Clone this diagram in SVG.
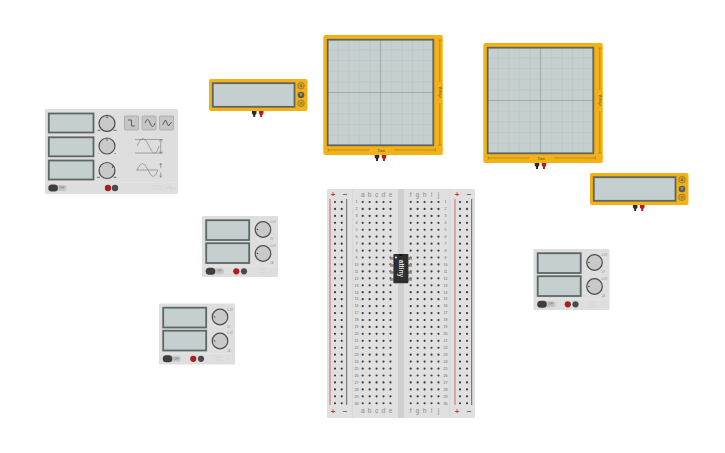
<svg xmlns="http://www.w3.org/2000/svg" width="725" height="453" viewBox="0 0 725 453">
<style>
text{font-family:"Liberation Sans",Arial,sans-serif}
.panel{fill:#dedede}
.lcd{fill:#c5cfd0;stroke:#5c6664;stroke-width:1.8}
.amber{fill:#f3b116}
.knob{fill:#c9c9c9;stroke:#4c4c4c;stroke-width:1.2}
.btn{fill:#c6c6c6;stroke:#a0a0a0;stroke-width:.7}
.wave{fill:none;stroke:#6c6c6c;stroke-width:.55}
.grid{stroke:#b6c0c1;stroke-width:.5}
.axis{stroke:#8f9999;stroke-width:.7}
.tiny{font-size:2.8px;fill:#999}
.rn{font-size:3.6px;fill:#666;text-anchor:middle}
.ln{font-size:6.5px;fill:#8a8a8a;text-anchor:middle}
.holes{stroke:#3a3a3a;stroke-width:2.2;stroke-linecap:round;stroke-dasharray:0 6.94}
</style>
<defs>
<g id="probes">
<path d="M-2.4 0h4.6v2.500l-1.300 1.500v2h-2v-2l-1.300-1.500z" fill="#2b2b2b"/>
<path d="M4.600 0h4.600v2.500l-1.300 1.500v2h-2v-2l-1.300-1.500z" fill="#b01e1e"/>
</g>
<g id="toggle">
<rect x="0" y="-3" width="18.400" height="6" rx="3" fill="#c6c6c6"/>
<rect x="0" y="-3.500" width="9.600" height="7" rx="3.500" fill="#3e3e3e"/>
<text x="11" y="1" class="tiny" style="font-size:2.600px;fill:#777">OFF</text>
</g>
<g id="psu">
<rect class="panel" width="76" height="61" rx="1"/>
<rect class="lcd" x="4.200" y="4.200" width="43" height="19.800"/>
<rect class="lcd" x="4.200" y="27.200" width="43" height="19.800"/>
<circle class="knob" cx="61" cy="13.500" r="7.800"/>
<circle class="knob" cx="61" cy="37.500" r="7.800"/>
<circle cx="55.500" cy="13.500" r=".7" fill="#333"/>
<circle cx="55.500" cy="37.500" r=".7" fill="#333"/>
<text class="tiny" x="68" y="7">0.4V</text>
<text class="tiny" x="68" y="24">0V</text>
<text class="tiny" x="68" y="30.500">0.4V</text>
<text class="tiny" x="68" y="48">1A</text>
<path d="M1 50H75" stroke="#e8e8e8" stroke-width=".6"/>
<use href="#toggle" x="3.700" y="55.300"/>
<circle cx="34.300" cy="55.300" r="3.100" fill="#a81f1f"/>
<circle cx="42" cy="55.300" r="3.100" fill="#4a4a4a"/>
<path d="M56 53.500h7M56 56.500h7M68 57l2-3" stroke="#cfcfcf" stroke-width=".6" fill="none"/>
</g>
<g id="meter">
<rect class="amber" width="98.500" height="32" rx="2"/>
<rect class="lcd" x="3.800" y="4.200" width="81.700" height="23.600"/>
<circle cx="92" cy="6.700" r="3.300" fill="#d9a21a" stroke="#6a6a50" stroke-width=".6"/>
<circle cx="92" cy="16" r="3.300" fill="#5a5a50"/>
<circle cx="92" cy="24.300" r="3.300" fill="#d9a21a" stroke="#6a6a50" stroke-width=".6"/>
<text x="92" y="8" font-size="3.500" text-anchor="middle" fill="#555">A</text>
<text x="92" y="17.200" font-size="3.500" text-anchor="middle" fill="#eee">V</text>
<text x="92" y="25.600" font-size="3.500" text-anchor="middle" fill="#555">R</text>
<use href="#probes" x="45.300" y="32"/>
</g>
<g id="scope">
<rect class="amber" width="119.500" height="120" rx="2"/>
<rect x="4.400" y="4.700" width="105.600" height="105.600" fill="#c5cfd0"/>
<path class="grid" d="M14.600 4.300v106.400M25.300 4.300v106.400M35.900 4.300v106.400M46.600 4.300v106.400M67.800 4.300v106.400M78.500 4.300v106.400M89.100 4.300v106.400M99.800 4.300v106.400M4 14.900h106.400M4 25.600h106.400M4 36.200h106.400M4 46.900h106.400M4 68.100h106.400M4 78.800h106.400M4 89.400h106.400M4 100.100h106.400"/>
<path class="axis" d="M57.200 4.300v106.400M4 57.500h106.400"/>
<rect x="4.400" y="4.700" width="105.600" height="105.600" fill="none" stroke="#5c6664" stroke-width="1.800"/>
<path d="M5 113.500v3M5 115H46M71 115H112M112 113.500v3M115 5h3M116.500 5V47M116.500 68V110M115 110h3" stroke="#7a6a2a" stroke-width=".5" fill="none"/>
<text x="58" y="116.500" font-size="3.400" text-anchor="middle" fill="#444">Time</text>
<text transform="translate(115.500 57.500) rotate(90)" font-size="3.600" text-anchor="middle" fill="#444">Voltage</text>
<use href="#probes" x="53.800" y="120"/>
</g>
</defs>

<g id="function-generator">
<rect class="panel" x="45" y="109" width="133" height="85" rx="1"/>
<rect class="lcd" x="48.800" y="113.500" width="44.700" height="19"/>
<rect class="lcd" x="48.800" y="137.300" width="44.700" height="19"/>
<rect class="lcd" x="48.800" y="160.500" width="44.700" height="19"/>
<circle class="knob" cx="107" cy="123.300" r="8"/>
<circle class="knob" cx="107" cy="146" r="8"/>
<circle class="knob" cx="107" cy="170.500" r="8"/>
<circle cx="107" cy="117.500" r=".7" fill="#333"/>
<circle cx="107" cy="140" r=".7" fill="#333"/>
<circle cx="112.500" cy="167" r=".7" fill="#333"/>
<path d="M97.500 130.300h3M113.500 130.300h3M97 177.300h3M113.500 177.300h3" stroke="#666" stroke-width="1"/>
<path d="M98 153.500h1M114 153.500h2" stroke="#999" stroke-width=".8"/>
<rect class="btn" x="124.500" y="116" width="14" height="14" rx="1"/>
<rect class="btn" x="142" y="116" width="14" height="14" rx="1"/>
<rect class="btn" x="159.500" y="116" width="14" height="14" rx="1"/>
<path d="M128 120h3.500v6H135" class="wave" style="stroke:#444;stroke-width:.8"/>
<path d="M145 123q2.500-7 5-0t5 0" class="wave" style="stroke:#444;stroke-width:.8"/>
<path d="M162.500 125l3-5 3 6 3-4" class="wave" style="stroke:#444;stroke-width:.8"/>
<path class="wave" d="M135 139.500h28M135 153h28M137 146q6-15 12 0t10 0M160.700 140v13M159.200 141.500l1.500-2 1.500 2M159.200 151.500l1.500 2 1.500-2"/>
<path class="wave" d="M136 170h22M137 170q5.500-13 11 0t10 0M160.700 164v4M160.700 172.500v4.500M159.700 165l1-2 1 2M159.700 175.500l1 2 1-2"/>
<path d="M46 182.700H177" stroke="#e8e8e8" stroke-width=".6"/>
<use href="#toggle" x="48.300" y="188"/>
<circle cx="108" cy="188" r="3.200" fill="#a81f1f"/>
<circle cx="115" cy="188" r="3.200" fill="#4a4a4a"/>
<path d="M152 186h10M152 189h10M165 188h11M168 188l2-3 2 6" stroke="#cfcfcf" stroke-width=".6" fill="none"/>
</g>

<use id="multimeter-1" href="#meter" x="209" y="79"/>
<use id="multimeter-2" href="#meter" x="590" y="173"/>
<use id="oscilloscope-1" href="#scope" x="323.300" y="35"/>
<use id="oscilloscope-2" href="#scope" x="483.300" y="43"/>
<use id="power-supply-1" href="#psu" x="202" y="216"/>
<use id="power-supply-2" href="#psu" x="159" y="303.500"/>
<use id="power-supply-3" href="#psu" x="533.500" y="249"/>

<g id="breadboard">
<rect x="327" y="189" width="148" height="229" rx="1.500" fill="#e0e0e0"/>
<rect x="398" y="189" width="6" height="229" fill="#cfcfcf"/>
<path d="M352.500 189v229M449.500 189v229" stroke="#d2d2d2" stroke-width=".6"/>
<path d="M330 199V405M455 199V405" stroke="#d66a6a" stroke-width="1"/>
<path d="M346.700 199V405M471.700 199V405" stroke="#555" stroke-width=".9"/>
<path class="holes" d="M335 202V404M341.700 202V404M460 202V404M467 202V404M362.700 202V404M369.640 202V404M376.580 202V404M383.520 202V404M390.460 202V404M410.700 202V404M417.640 202V404M424.580 202V404M431.520 202V404M438.460 202V404"/>
<g fill="#c0393f" font-size="8" font-weight="bold" text-anchor="middle"><text x="333" y="196.500">+</text><text x="457" y="196.500">+</text><text x="333" y="414">+</text><text x="457" y="414">+</text></g>
<g fill="#666" font-size="8" font-weight="bold" text-anchor="middle"><text x="345" y="196.500">−</text><text x="469" y="196.500">−</text><text x="345" y="414">−</text><text x="469" y="414">−</text></g>
<g class="letters">
<text class="ln" x="362.700" y="197">a</text><text class="ln" x="369.640" y="197">b</text><text class="ln" x="376.580" y="197">c</text><text class="ln" x="383.520" y="197">d</text><text class="ln" x="390.460" y="197">e</text><text class="ln" x="410.700" y="197">f</text><text class="ln" x="417.640" y="197">g</text><text class="ln" x="424.580" y="197">h</text><text class="ln" x="431.520" y="197">i</text><text class="ln" x="438.460" y="197">j</text>
<text class="ln" x="362.700" y="412.500">a</text><text class="ln" x="369.640" y="412.500">b</text><text class="ln" x="376.580" y="412.500">c</text><text class="ln" x="383.520" y="412.500">d</text><text class="ln" x="390.460" y="412.500">e</text><text class="ln" x="410.700" y="412.500">f</text><text class="ln" x="417.640" y="412.500">g</text><text class="ln" x="424.580" y="412.500">h</text><text class="ln" x="431.520" y="412.500">i</text><text class="ln" x="438.460" y="412.500">j</text>
</g>
<g id="row-numbers-left">
<text class="rn" x="356.500" y="203.300">1</text><text class="rn" x="356.500" y="210.200">2</text><text class="rn" x="356.500" y="217.200">3</text><text class="rn" x="356.500" y="224.100">4</text><text class="rn" x="356.500" y="231">5</text><text class="rn" x="356.500" y="238">6</text><text class="rn" x="356.500" y="244.900">7</text><text class="rn" x="356.500" y="251.900">8</text><text class="rn" x="356.500" y="258.800">9</text><text class="rn" x="356.500" y="265.800">10</text><text class="rn" x="356.500" y="272.700">11</text><text class="rn" x="356.500" y="279.600">12</text><text class="rn" x="356.500" y="286.600">13</text><text class="rn" x="356.500" y="293.500">14</text><text class="rn" x="356.500" y="300.400">15</text><text class="rn" x="356.500" y="307.400">16</text><text class="rn" x="356.500" y="314.300">17</text><text class="rn" x="356.500" y="321.300">18</text><text class="rn" x="356.500" y="328.200">19</text><text class="rn" x="356.500" y="335.100">20</text><text class="rn" x="356.500" y="342.100">21</text><text class="rn" x="356.500" y="349">22</text><text class="rn" x="356.500" y="356">23</text><text class="rn" x="356.500" y="362.900">24</text><text class="rn" x="356.500" y="369.800">25</text><text class="rn" x="356.500" y="376.800">26</text><text class="rn" x="356.500" y="383.700">27</text><text class="rn" x="356.500" y="390.700">28</text><text class="rn" x="356.500" y="397.600">29</text><text class="rn" x="356.500" y="404.600">30</text>
</g>
<g id="row-numbers-right">
<text class="rn" x="445.500" y="203.300">1</text><text class="rn" x="445.500" y="210.200">2</text><text class="rn" x="445.500" y="217.200">3</text><text class="rn" x="445.500" y="224.100">4</text><text class="rn" x="445.500" y="231">5</text><text class="rn" x="445.500" y="238">6</text><text class="rn" x="445.500" y="244.900">7</text><text class="rn" x="445.500" y="251.900">8</text><text class="rn" x="445.500" y="258.800">9</text><text class="rn" x="445.500" y="265.800">10</text><text class="rn" x="445.500" y="272.700">11</text><text class="rn" x="445.500" y="279.600">12</text><text class="rn" x="445.500" y="286.600">13</text><text class="rn" x="445.500" y="293.500">14</text><text class="rn" x="445.500" y="300.400">15</text><text class="rn" x="445.500" y="307.400">16</text><text class="rn" x="445.500" y="314.300">17</text><text class="rn" x="445.500" y="321.300">18</text><text class="rn" x="445.500" y="328.200">19</text><text class="rn" x="445.500" y="335.100">20</text><text class="rn" x="445.500" y="342.100">21</text><text class="rn" x="445.500" y="349">22</text><text class="rn" x="445.500" y="356">23</text><text class="rn" x="445.500" y="362.900">24</text><text class="rn" x="445.500" y="369.800">25</text><text class="rn" x="445.500" y="376.800">26</text><text class="rn" x="445.500" y="383.700">27</text><text class="rn" x="445.500" y="390.700">28</text><text class="rn" x="445.500" y="397.600">29</text><text class="rn" x="445.500" y="404.600">30</text>
</g>
</g>

<g id="ic">
<path d="M390 258.500h4M390 265.500h4M390 272.500h4M390 279.500h4M408 258.500h4M408 265.500h4M408 272.500h4M408 279.500h4" stroke="#8d8d8d" stroke-width="2.400"/>
<rect x="393.400" y="254" width="15" height="29.300" rx=".8" fill="#2e2e2e"/>
<path d="M398.900 254a2 2 0 0 0 4 0z" fill="#111"/>
<circle cx="396" cy="257.500" r="1" fill="#eee"/>
<text transform="translate(399.200 268.500) rotate(90)" font-size="6.500" font-weight="bold" text-anchor="middle" fill="#e0e0e0">attiny</text>
</g>
<g id="connectors"></g>
</svg>
